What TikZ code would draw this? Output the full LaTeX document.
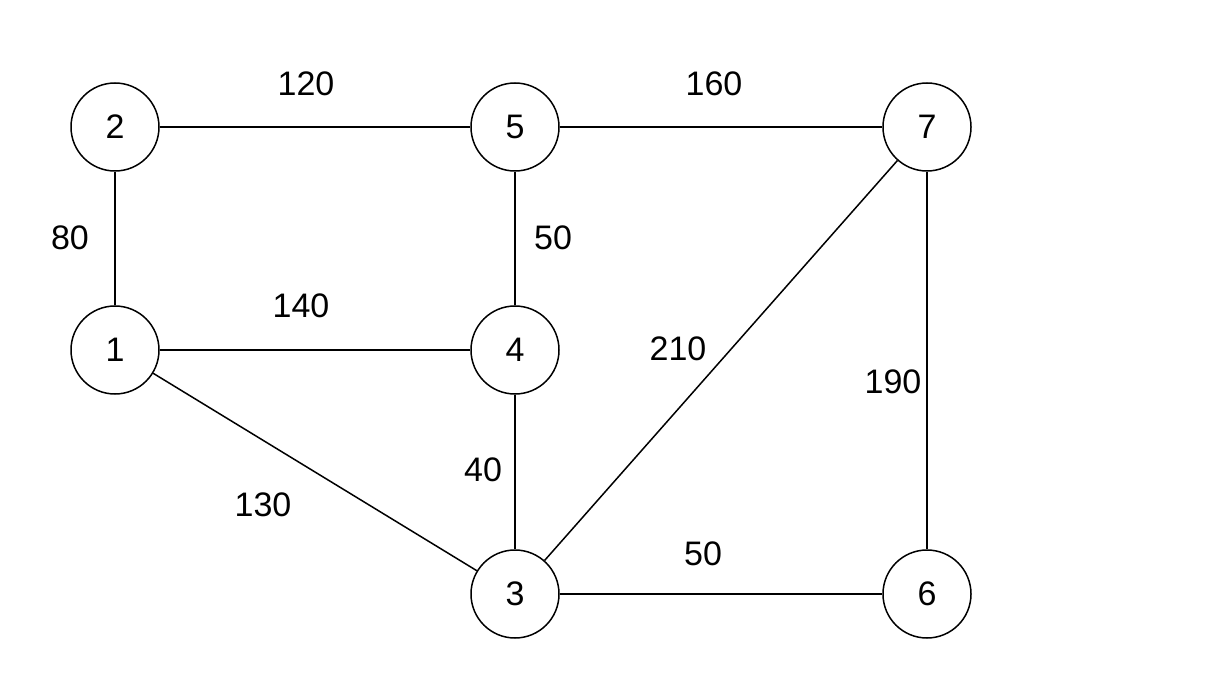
\documentclass[tikz,border=0pt]{standalone}
\usepackage{fontspec}
\setmainfont{Liberation Sans}
\begin{document}
\begin{tikzpicture}[x=0.5pt,y=-0.5pt,
  vert/.style={circle,draw,line width=0.75pt,minimum size=44pt,inner sep=0pt,font=\fontsize{17}{19}\selectfont},
  lbl/.style={font=\fontsize{17}{19}\selectfont},
  edge/.style={line width=0.75pt}]
\useasboundingbox (0,0) rectangle (1220,678);
\node[vert] (n2) at (115,127) {2};
\node[vert] (n5) at (515,127) {5};
\node[vert] (n7) at (927,127) {7};
\node[vert] (n1) at (115,350) {1};
\node[vert] (n4) at (515,350) {4};
\node[vert] (n3) at (515,594) {3};
\node[vert] (n6) at (927,594) {6};
\draw[edge] (n2)--(n5); \draw[edge] (n5)--(n7);
\draw[edge] (n2)--(n1); \draw[edge] (n5)--(n4);
\draw[edge] (n1)--(n4); \draw[edge] (n1)--(n3);
\draw[edge] (n4)--(n3); \draw[edge] (n3)--(n7);
\draw[edge] (n7)--(n6); \draw[edge] (n3)--(n6);
\node[lbl] (l1) at (306,84) {120};
\node[lbl] (l2) at (714,84) {160};
\node[lbl] (l3) at (70,238) {80};
\node[lbl] (l4) at (553,238) {50};
\node[lbl] (l5) at (301,306) {140};
\node[lbl] (l6) at (678,349) {210};
\node[lbl] (l7) at (893,382) {190};
\node[lbl] (l8) at (483,470) {40};
\node[lbl] (l9) at (263,505) {130};
\node[lbl] (l10) at (703,554) {50};
\end{tikzpicture}
\end{document}
